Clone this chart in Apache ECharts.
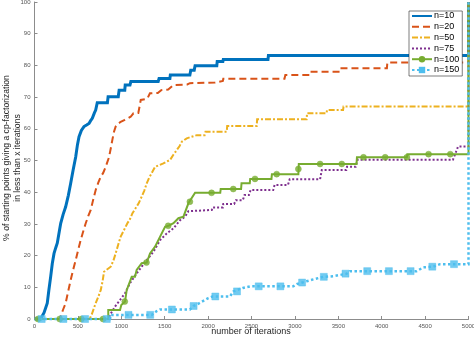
<!DOCTYPE html>
<html>
<head>
<meta charset="utf-8">
<script src="https://cdn.jsdelivr.net/npm/echarts@6/dist/echarts.min.js"></script>
<style>html,body{margin:0;padding:0;background:#fff}#c{width:474px;height:338px}</style>
</head>
<body>
<div id="c"></div>
<script>
// ---- data (iterations, % of starting points) ----
const xTicks = [0,500,1000,1500,2000,2500,3000,3500,4000,4500,5000];
const yTicks = [0,10,20,30,40,50,60,70,80,90,100];
const seriesNames = ['n=10','n=20','n=50','n=75','n=100','n=150'];
const yTitleLines = ['% of starting points giving a cp-factorization','in less than x iterations'];
const xTitle = 'number of iterations';

const n10 = [[0,0],[70,0],[84,0.5],[110,2],[147,5],[165,9],[186,13.3],[205,17.5],[225,20.7],[245,22.5],[263,24],[285,27.5],[302,30.2],[330,33],[359,35.4],[390,39],[417,42.8],[445,47],[475,51.2],[495,55],[513,57.5],[540,59.5],[570,60.7],[600,61.2],[628,61.7],[645,62.5],[666,63.3],[690,65],[705,65.9],[723,68.2],[840,68.2],[848,70.1],[965,70.1],[975,72.2],[1040,72.2],[1045,73.8],[1100,73.8],[1110,74.9],[1425,74.9],[1435,75.9],[1560,75.9],[1565,77],[1790,77],[1800,78.5],[1840,78.5],[1850,79.9],[2100,79.9],[2105,81.2],[2170,81.2],[2175,81.9],[2690,81.9],[2695,83.1],[5000,83.1],[5000,100]];

const n20 = [[0,0],[290,0],[302,0.5],[330,3],[359,5],[390,9],[417,12.3],[445,15.5],[475,18.6],[505,22],[532,24.9],[560,27.5],[590,30.2],[620,32.5],[648,34.4],[675,37.5],[705,40.7],[735,43],[763,44.9],[790,46],[820,48],[858,51],[880,54],[897,56.5],[915,59],[935,60.7],[960,61.5],[993,62.2],[1040,62.8],[1108,63.8],[1140,64.9],[1196,65],[1210,67],[1224,69.1],[1300,69.5],[1330,71.2],[1420,71.3],[1460,72.2],[1540,72.4],[1600,73.8],[1760,74],[1790,74.4],[2080,74.6],[2100,75.1],[2170,75.1],[2175,75.8],[2880,75.8],[2890,77],[3175,77],[3180,78],[3520,78],[3525,79.1],[4060,79.1],[4065,80.9],[5000,80.9],[5000,100]];

const n50 = [[0,0],[634,0],[660,1.5],[705,5],[735,7],[763,9.1],[785,12],[801,14.9],[878,16.5],[910,18.5],[935,20.7],[965,23.5],[993,26],[1030,28],[1070,30.2],[1100,31.5],[1127,33.3],[1166,35],[1200,36.5],[1235,38.6],[1265,40.5],[1293,42.8],[1320,44.5],[1350,46],[1389,48],[1485,49.1],[1562,50.2],[1600,51.8],[1639,53.3],[1670,54.5],[1697,55.9],[1754,57],[1869,58],[1960,58],[1970,59.1],[2215,59.1],[2220,60.9],[2560,60.9],[2565,63],[3135,63],[3140,64.9],[3365,64.9],[3370,65.9],[3555,65.9],[3560,67],[5000,67],[5000,100]];

const n75 = [[0,0],[850,0],[870,1.3],[927,3.9],[985,6],[1043,8.1],[1100,11.3],[1177,14.4],[1235,16.5],[1293,18.6],[1370,21.2],[1447,24.9],[1524,27],[1601,28.6],[1678,31.2],[1735,32.3],[1773,34],[2042,34.4],[2050,35.2],[2170,35.2],[2175,36.3],[2300,36.3],[2320,37.5],[2400,37.5],[2420,39.1],[2470,39.1],[2490,40.7],[2750,40.7],[2766,42.3],[2920,42.3],[2940,44.1],[3290,44.1],[3310,47],[3592,47],[3600,48],[3700,48],[3720,50.2],[4820,50.2],[4860,53],[4880,54.4],[5000,54.4],[5000,100]];

const n100 = [[0,0],[850,0],[850,2.8],[985,2.8],[1000,4.4],[1043,5.5],[1062,9.1],[1120,13.3],[1158,13.3],[1177,15.5],[1235,17.6],[1293,17.8],[1331,20.7],[1389,22.8],[1447,26],[1504,29.1],[1543,29.4],[1601,30.2],[1658,31.8],[1716,32.3],[1773,36.5],[1793,37],[1850,39.8],[2140,39.8],[2145,41],[2380,41],[2385,42.8],[2480,42.8],[2485,44.2],[2730,44.2],[2735,45.7],[3040,45.7],[3045,48.9],[3710,48.9],[3715,51],[4290,51],[4295,52],[5000,52],[5000,100]];
const n100Markers = [[40,0],[290,0],[540,0],[790,0],[1040,5.5],[1290,17.8],[1540,29.4],[1790,37],[2040,39.8],[2290,41],[2540,44.2],[2790,45.7],[3040,47.3],[3290,48.9],[3540,48.9],[3790,51],[4040,51],[4290,51],[4540,52],[4790,52]];

const n150 = [[0,0],[870,0],[880,1.3],[1350,1.3],[1408,2.5],[1446,3],[1791,3],[1830,4.1],[1900,5],[2003,6.6],[2050,7.1],[2252,7.1],[2291,8.7],[2400,9.8],[2483,10.3],[2982,10.3],[3020,11],[3136,11.9],[3212,12.5],[3327,13.3],[3443,13.5],[3597,14.3],[3635,15.1],[4403,15.1],[4480,16.3],[4595,16.5],[4671,17.3],[5000,17.3],[5000,100]];
const n150Markers = [[83,0],[333,0],[583,0],[833,0],[1083,1.3],[1333,1.3],[1583,3],[1833,4.1],[2083,7.1],[2333,8.7],[2583,10.3],[2833,10.3],[3083,11.5],[3333,13.3],[3583,14.3],[3833,15.1],[4083,15.1],[4333,15.1],[4583,16.5],[4833,17.3]];

const colors = ['#0072BD','#D95319','#EDB120','#7E2F8E','#77AC30','#4DBEEE'];

const chart = echarts.init(document.getElementById('c'), null, {renderer:'canvas'});
const font = '"Liberation Sans", Arial, Helvetica, sans-serif';

function lineSeries(name, data, color, width, type, symbol, size) {
  return {
    name, type:'line', data, clip:false, animation:false,
    symbol: symbol || 'none', showSymbol:false, symbolSize: size || 4,
    lineStyle:{color, width, type: type || 'solid', cap:'butt', join:'miter'},
    itemStyle:{color},
    emphasis:{disabled:true}, z: 2
  };
}
function markerSeries(name, data, color, symbol, size) {
  return {
    name, type:'scatter', data, clip:false, animation:false,
    symbol, symbolSize:size, itemStyle:{color, borderColor:color, borderWidth:0.5},
    emphasis:{disabled:true}, z: 3
  };
}

const legendData = seriesNames.map((n, i) => i < 4 ? {name:n, itemStyle:{opacity:0}} : {name:n});

chart.setOption({
  animation:false,
  backgroundColor:'#fff',
  grid:{left:34.5, right:5.5, top:2, bottom:19, outerBoundsMode:'none', containLabel:false},
  xAxis:{
    type:'value', min:0, max:5000, interval:500,
    axisLine:{show:true, lineStyle:{color:'#8c8c8c', width:1}},
    axisTick:{show:true, inside:true, length:3, lineStyle:{color:'#8c8c8c'}},
    axisLabel:{fontFamily:font, fontSize:6, color:'#555', margin:4,
      formatter:(v)=> xTicks.includes(v) ? String(v) : ''},
    splitLine:{show:false}
  },
  yAxis:{
    type:'value', min:0, max:100, interval:10,
    axisLine:{show:true, lineStyle:{color:'#8c8c8c', width:1}},
    axisTick:{show:true, inside:true, length:3, lineStyle:{color:'#8c8c8c'}},
    axisLabel:{fontFamily:font, fontSize:6, color:'#555', margin:4,
      formatter:(v)=> yTicks.includes(v) ? String(v) : ''},
    splitLine:{show:false}
  },
  graphic: yTitleLines.map((t, i) => ({
    type:'text', x: 7 + i * 10.5, y: 158, rotation: Math.PI / 2,
    style:{text:t, font:'8.6px ' + font, fill:'#262626', align:'center', verticalAlign:'middle'},
    silent:true
  })).concat([{
    type:'text', x: 251, y: 332,
    style:{text:xTitle, font:'9px ' + font, fill:'#262626', align:'center', verticalAlign:'middle'},
    silent:true
  }]),
  legend:{
    orient:'vertical', left:409, top:11,
    data: legendData,
    itemWidth:20, itemHeight:8, itemGap:1.8,
    padding:[0.5,3,1.5,2],
    backgroundColor:'#fff', borderColor:'#262626', borderWidth:0.6,
    textStyle:{fontFamily:font, fontSize:9, color:'#000', padding:[0,0,0,-3]},
    selectedMode:false
  },
  series:[
    lineSeries('n=10', n10, colors[0], 3),
    lineSeries('n=20', n20, colors[1], 2, [7,4]),
    lineSeries('n=50', n50, colors[2], 2, [6,2,2,2]),
    lineSeries('n=75', n75, colors[3], 2, [2,2]),
    lineSeries('n=100', n100, colors[4], 2, 'solid', 'circle', 6),
    markerSeries('m100', n100Markers, colors[4], 'circle', 6),
    lineSeries('n=150', n150, colors[5], 2.5, [2.5,2.5], 'rect', 7),
    markerSeries('m150', n150Markers, colors[5], 'rect', 7)
  ]
});
</script>
</body>
</html>
